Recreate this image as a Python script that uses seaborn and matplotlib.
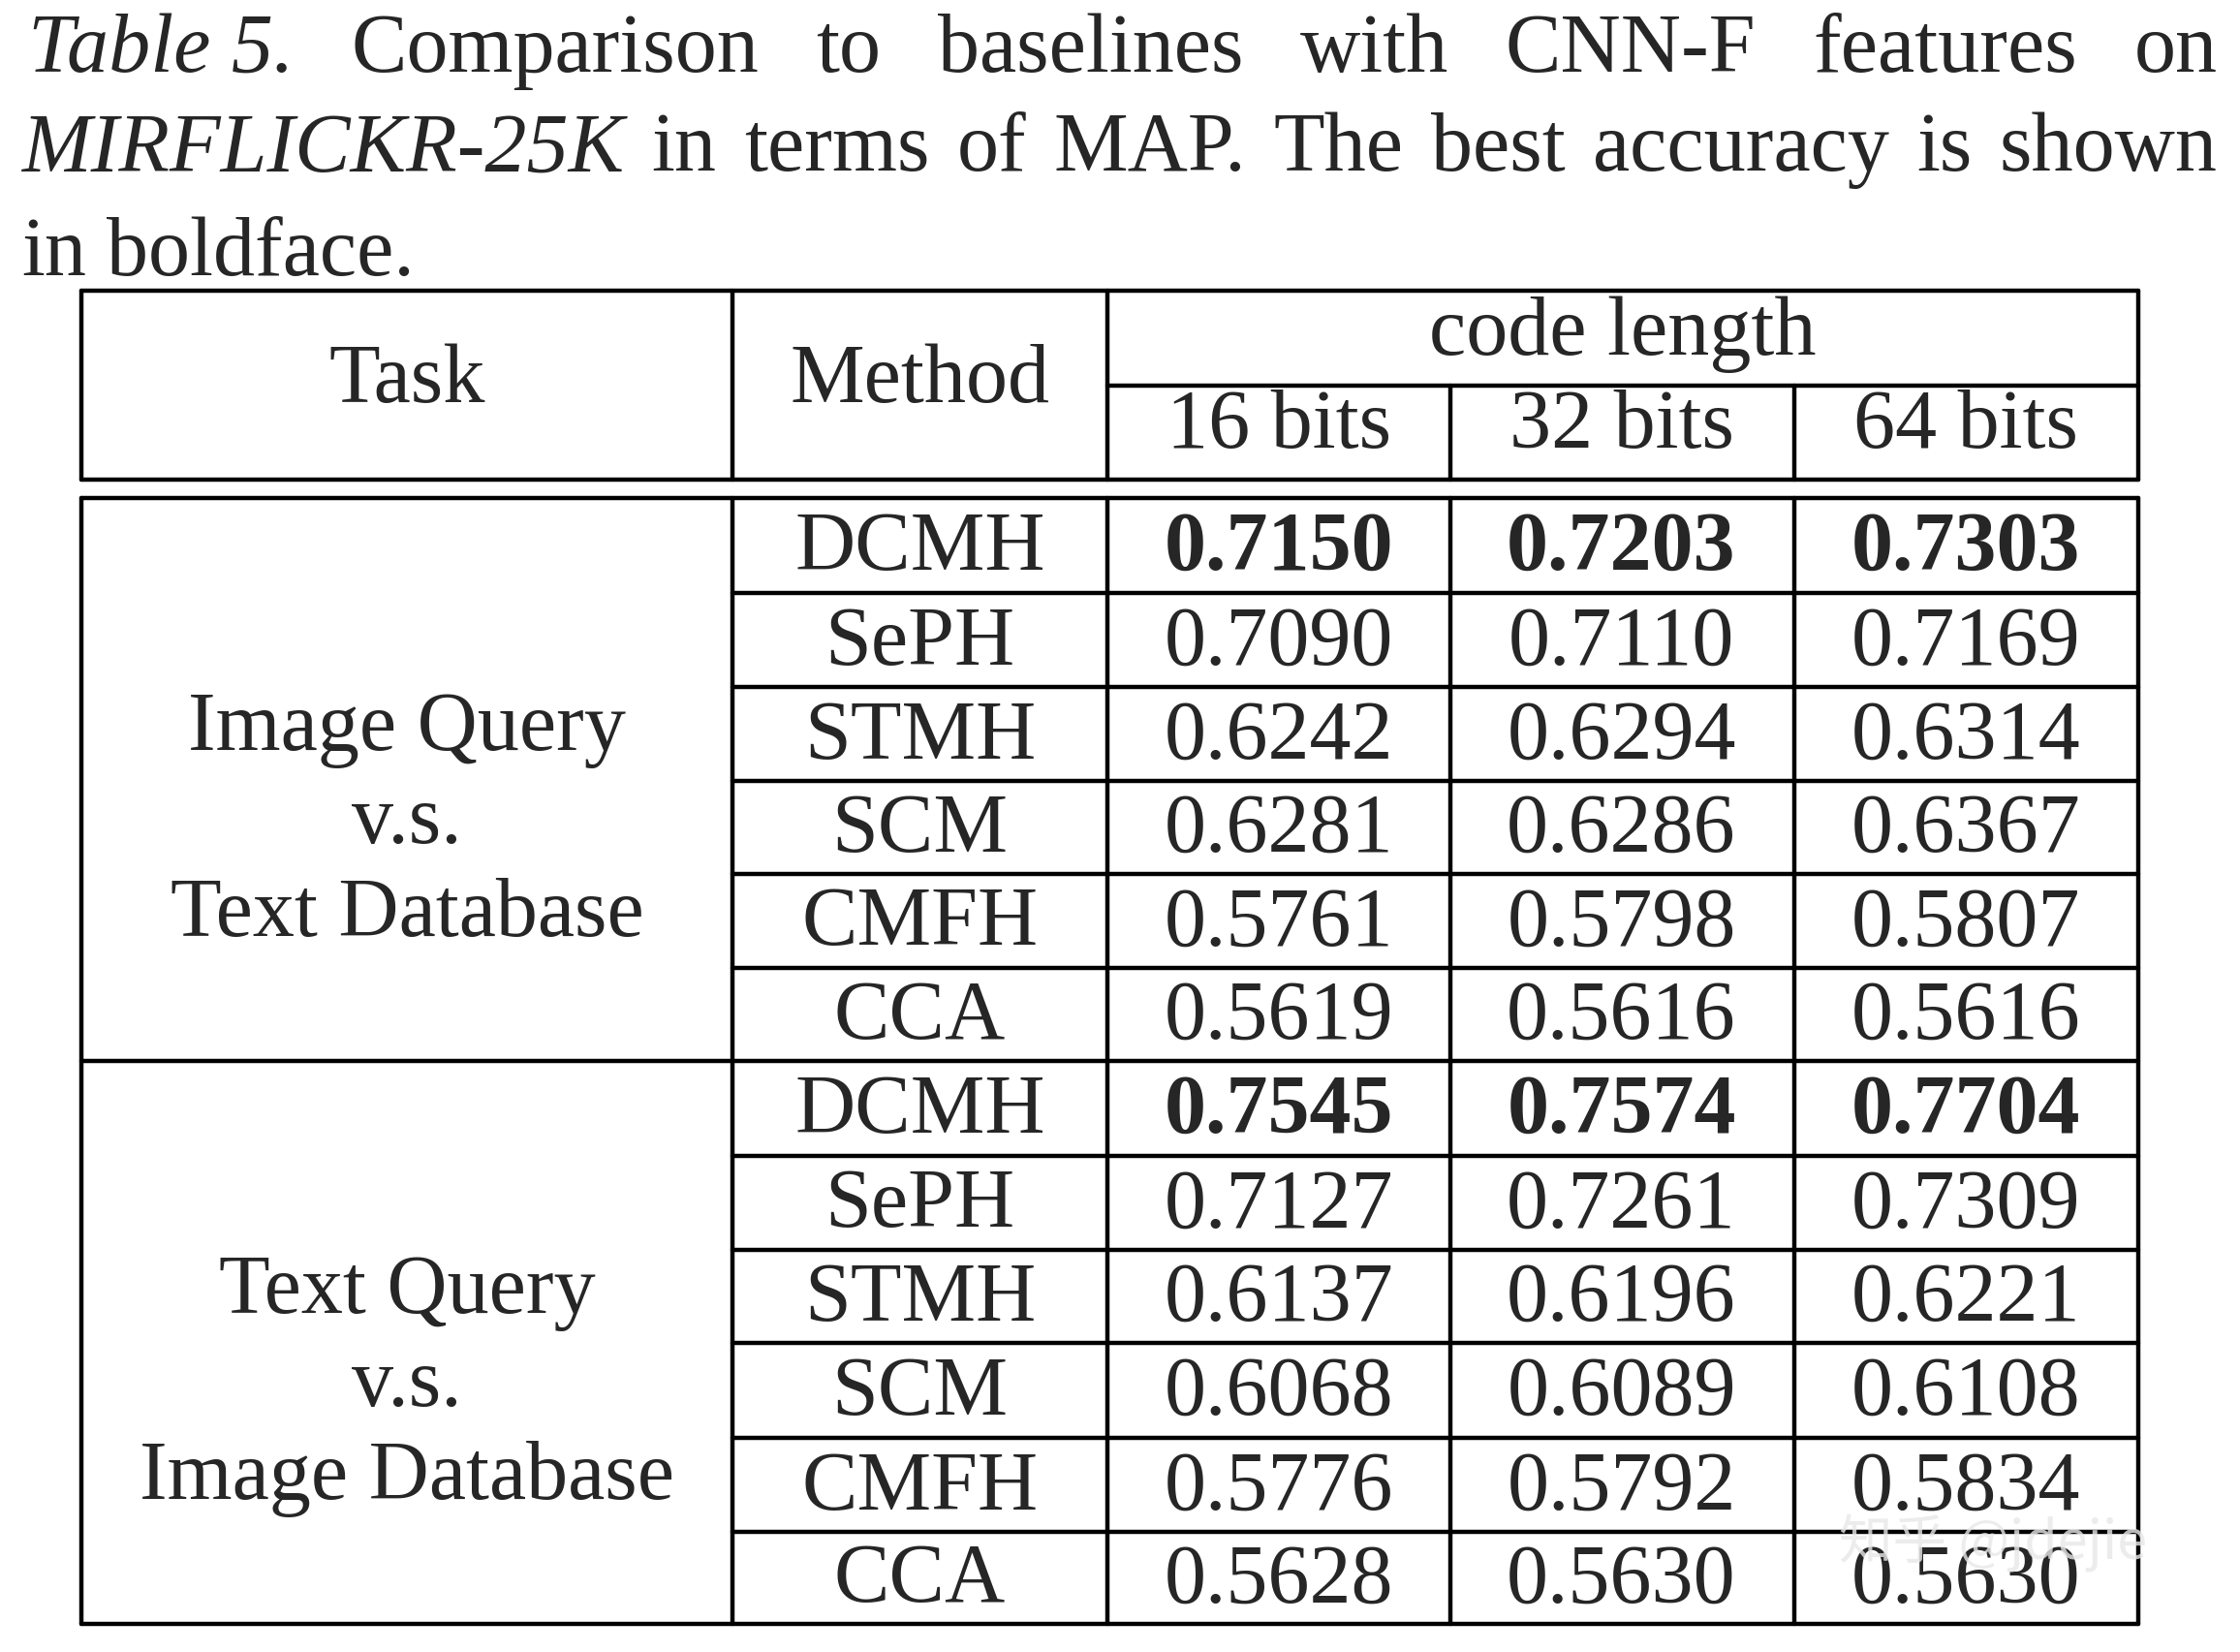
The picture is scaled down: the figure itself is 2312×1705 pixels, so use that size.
import matplotlib.pyplot as plt
import seaborn as sns

# table content
caption_lines = [
    [("Table 5.", "italic"), ("Comparison", "normal"), ("to", "normal"), ("baselines", "normal"),
     ("with", "normal"), ("CNN-F", "normal"), ("features", "normal"), ("on", "normal")],
    [("MIRFLICKR-25K", "italic"), ("in", "normal"), ("terms", "normal"), ("of", "normal"),
     ("MAP.", "normal"), ("The", "normal"), ("best", "normal"), ("accuracy", "normal"),
     ("is", "normal"), ("shown", "normal")],
    [("in", "normal"), ("boldface.", "normal")],
]
bit_labels = ["16 bits", "32 bits", "64 bits"]
tasks = [["Image Query", "v.s.", "Text Database"],
         ["Text Query", "v.s.", "Image Database"]]
methods = ["DCMH", "SePH", "STMH", "SCM", "CMFH", "CCA"]
img_query = [[0.7150, 0.7203, 0.7303],
             [0.7090, 0.7110, 0.7169],
             [0.6242, 0.6294, 0.6314],
             [0.6281, 0.6286, 0.6367],
             [0.5761, 0.5798, 0.5807],
             [0.5619, 0.5616, 0.5616]]
txt_query = [[0.7545, 0.7574, 0.7704],
             [0.7127, 0.7261, 0.7309],
             [0.6137, 0.6196, 0.6221],
             [0.6068, 0.6089, 0.6108],
             [0.5776, 0.5792, 0.5834],
             [0.5628, 0.5630, 0.5630]]

sns.set_theme(style="white")
plt.rcParams['font.family'] = ['Liberation Serif', 'DejaVu Serif']

W, H = 1568, 1160
fig = plt.figure(figsize=(23.12, 17.06), dpi=100)
ax = fig.add_axes([0, 0, 1, 1])
ax.set_xlim(0, W)
ax.set_ylim(H, 0)
ax.axis("off")

FS = 62
lw = 3.2

# justified caption
fig.canvas.draw()
r = fig.canvas.get_renderer()
inv = ax.transData.inverted()
cap_y = [50, 120, 193]
for li, words in enumerate(caption_lines):
    x0, x1 = (20, 1552) if li == 0 else (15, 1552)
    texts = [ax.text(0, cap_y[li], w, fontsize=FS, style=s, va="baseline", ha="left")
             for w, s in words]
    widths = []
    for t in texts:
        bb = t.get_window_extent(renderer=r)
        a = inv.transform((bb.x0, 0))[0]
        b = inv.transform((bb.x1, 0))[0]
        widths.append(b - a)
    if li < 2:
        gap = (x1 - x0 - sum(widths)) / (len(words) - 1)
    else:
        gap = 14
    x = x0
    for t, w in zip(texts, widths):
        t.set_x(x)
        x += w + gap

xs = [57, 513, 775, 1015, 1256, 1497]
# header box
hy0, hy1, hmid = 205, 337, 271
for y in (hy0, hy1):
    ax.plot([xs[0], xs[-1]], [y, y], color="black", lw=lw)
ax.plot([xs[2], xs[-1]], [hmid, hmid], color="black", lw=lw)
for i, x in enumerate(xs):
    if i in (3, 4):
        ax.plot([x, x], [hmid, hy1], color="black", lw=lw)
    else:
        ax.plot([x, x], [hy0, hy1], color="black", lw=lw)
ax.text(285, 268, "Task", fontsize=FS, ha="center", va="center")
ax.text(644, 268, "Method", fontsize=FS, ha="center", va="center")
ax.text(1136, 235, "code length", fontsize=FS, ha="center", va="center")
centers = [895, 1135, 1376]
for c, lab in zip(centers, bit_labels):
    ax.text(c, 300, lab, fontsize=FS, ha="center", va="center")

# body
rows = [350, 417, 483, 549, 614, 680, 745, 812, 878, 943, 1010, 1076, 1140]
for i, y in enumerate(rows):
    if i in (0, 6, 12):
        ax.plot([xs[0], xs[-1]], [y, y], color="black", lw=lw)
    else:
        ax.plot([xs[1], xs[-1]], [y, y], color="black", lw=lw)
for x in xs:
    ax.plot([x, x], [rows[0], rows[-1]], color="black", lw=lw)

for g, (task, vals) in enumerate(zip(tasks, [img_query, txt_query])):
    base = g * 6
    ymid = (rows[base] + rows[base + 6]) / 2 + 30
    for k, line in enumerate(task):
        ax.text(285, ymid + (k - 1) * 65, line, fontsize=FS, ha="center", va="center")
    for m, (meth, row) in enumerate(zip(methods, vals)):
        yc = (rows[base + m] + rows[base + m + 1]) / 2 + 2
        ax.text(644, yc, meth, fontsize=FS, ha="center", va="center")
        for c, v in zip(centers, row):
            ax.text(c, yc, f"{v:.4f}", fontsize=FS, ha="center", va="center",
                    weight="bold" if m == 0 else "normal")

ax.text(1395, 1083, "知乎 @jdejie", fontsize=40, ha="center", va="center",
        color="#e8e8e8", alpha=0.8, family=["Noto Sans CJK SC", "DejaVu Sans"])

fig.savefig("out.png", dpi=100)
